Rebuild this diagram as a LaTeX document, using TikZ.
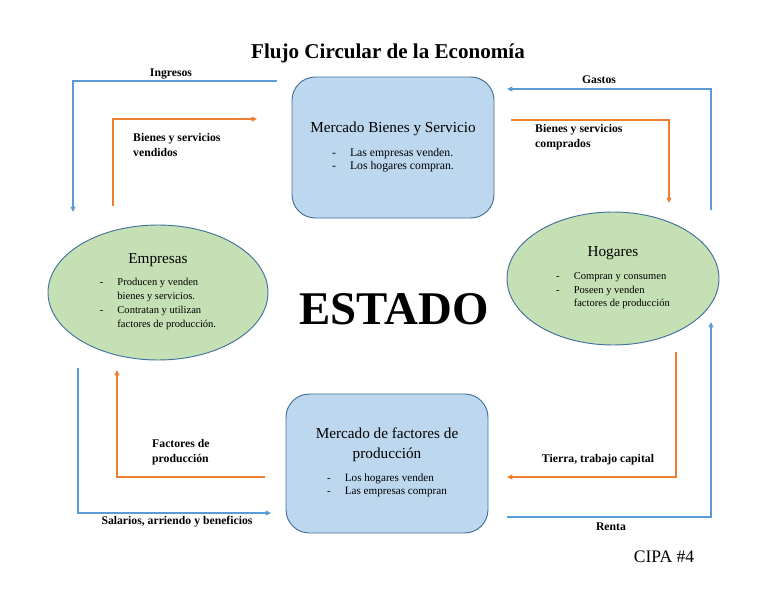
\documentclass[tikz,border=0pt]{standalone}
\usepackage{fontspec}
\setmainfont{Liberation Serif}
\usepackage{tikz}
\usetikzlibrary{arrows.meta,shapes.geometric}
\definecolor{BoxFill}{HTML}{BDD7EE}
\definecolor{BoxLine}{HTML}{41719C}
\definecolor{Leaf}{HTML}{C5E0B4}
\definecolor{MoneyBlue}{HTML}{5B9BD5}
\definecolor{GoodsOrange}{HTML}{ED7D31}
\newcommand{\dashlist}[1]{\begin{tabular}{@{}l@{\hspace{12pt}}l@{}}#1\end{tabular}}

\begin{document}
\begin{tikzpicture}[x=0.3mm,y=-0.3mm,
  market/.style={draw=BoxLine,fill=BoxFill,rounded corners=7mm,align=center,
    inner sep=0pt,line width=0.8pt},
  agent/.style={ellipse,draw=BoxLine,fill=Leaf,align=center,inner sep=0pt,line width=0.8pt},
  lbl/.style={font=\fontsize{10}{12.5}\selectfont\bfseries,align=left,inner sep=0pt},
  money/.style={-{Triangle[length=4.5pt,width=4pt]},line width=0.9pt,color=MoneyBlue},
  goods/.style={-{Triangle[length=4.5pt,width=4pt]},line width=0.9pt,color=GoodsOrange}]
\useasboundingbox (0,0) rectangle (768,594);
\node[font=\fontsize{18}{20}\selectfont\bfseries] (title) at (388,53) {Flujo Circular de la Economía};
\node[market,minimum width=60.6mm,minimum height=42.3mm,font=\fontsize{13}{16}\selectfont] (goodsmkt) at (393,147.5)
  {Mercado Bienes y Servicio\\[9pt]
   {\fontsize{10}{11}\selectfont\dashlist{- & Las empresas venden.\\ - & Los hogares compran.}}};
\node[market,minimum width=60.6mm,minimum height=41.7mm,font=\fontsize{13}{16.5}\selectfont] (factormkt) at (387,463.5)
  {Mercado de factores de\\ producción\\[8pt]
   {\fontsize{9.5}{11.5}\selectfont\dashlist{- & Los hogares venden\\ - & Las empresas compran}}};
\node[agent,minimum width=66mm,minimum height=40.5mm,font=\fontsize{13}{16}\selectfont] (firms) at (158,292.5)
  {Empresas\\[7pt]
   {\fontsize{9}{11.8}\selectfont\dashlist{- & Producen y venden\\ & bienes y servicios.\\ - & Contratan y utilizan\\ & factores de producción.}}};
\node[agent,minimum width=63.6mm,minimum height=39.9mm,font=\fontsize{13}{16}\selectfont] (homes) at (613,278.5)
  {Hogares\\[8pt]
   {\fontsize{9}{11.5}\selectfont\dashlist{- & Compran y consumen\\ - & Poseen y venden\\ & factores de producción}}};
\node[font=\fontsize{40}{44}\selectfont\bfseries] (state) at (394,309) {ESTADO};
\node[font=\fontsize{15}{17}\selectfont] (cipa) at (664,557) {CIPA \#4};
% corners of the flows
\coordinate (ing0) at (277,81);  \coordinate (ing1) at (73,81);   \coordinate (ing2) at (73,212);
\coordinate (gas0) at (711,210); \coordinate (gas1) at (711,89);  \coordinate (gas2) at (507,89);
\coordinate (ren0) at (507,517); \coordinate (ren1) at (711,517); \coordinate (ren2) at (711,322);
\coordinate (sal0) at (78,368);  \coordinate (sal1) at (78,513);  \coordinate (sal2) at (271,513);
\coordinate (ven0) at (113,206); \coordinate (ven1) at (113,119); \coordinate (ven2) at (257,119);
\coordinate (com0) at (511,120); \coordinate (com1) at (669,120); \coordinate (com2) at (669,203);
\coordinate (tie0) at (676,352); \coordinate (tie1) at (676,477); \coordinate (tie2) at (507,477);
\coordinate (fac0) at (265,477); \coordinate (fac1) at (117,477); \coordinate (fac2) at (117,370);
\foreach \f in {ing,gas,ren,sal}\draw[money] (\f0) -- (\f1) -- (\f2);
\foreach \f in {ven,com,tie,fac}\draw[goods] (\f0) -- (\f1) -- (\f2);
\node[lbl] (ingl) at (171,74) {Ingresos};
\node[lbl] (gasl) at (599,80) {Gastos};
\node[lbl] (renl) at (611,527) {Renta};
\node[lbl] (sall) at (177,522) {Salarios, arriendo y beneficios};
\node[lbl,anchor=west] (venl) at (133,145) {Bienes y servicios\\ vendidos};
\node[lbl,anchor=west] (coml) at (535,137) {Bienes y servicios\\ comprados};
\node[lbl] (tiel) at (598,460) {Tierra, trabajo capital};
\node[lbl,anchor=west] (facl) at (152,452) {Factores de\\ producción};
\end{tikzpicture}
\end{document}
